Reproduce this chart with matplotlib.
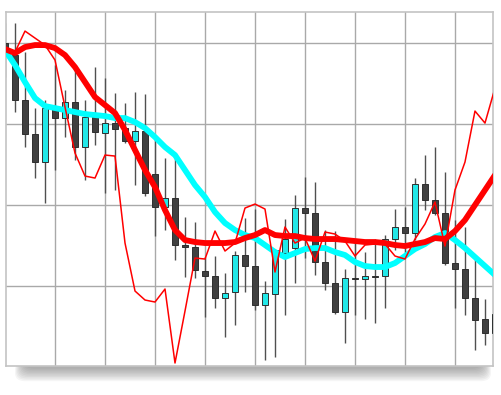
import numpy as np
import matplotlib
matplotlib.use("Agg")
import matplotlib.pyplot as plt
from matplotlib.patches import FancyBboxPatch

# candle OHLC (price units, higher = up)
opens = [357, 345, 300, 266, 238, 292, 282, 298, 253, 283, 267, 277, 272, 259, 269, 226, 193,
         202, 155, 153, 129, 124, 102, 108, 145, 134, 95, 106, 147, 152, 192, 187, 138, 117,
         88, 122, 121, 124, 124, 161, 173, 167, 216, 200, 187, 137, 131, 102, 81, 67]
highs = [377, 377, 348, 292, 300, 335, 310, 335, 300, 333, 322, 307, 297, 308, 306, 265, 242,
         242, 183, 178, 143, 144, 127, 149, 182, 191, 119, 151, 181, 205, 223, 218, 170, 169,
         131, 158, 148, 161, 165, 191, 193, 222, 245, 253, 228, 180, 173, 142, 101, 102]
lows = [323, 288, 253, 222, 197, 230, 263, 240, 220, 255, 207, 210, 257, 215, 204, 164, 170,
        140, 123, 122, 83, 92, 63, 75, 108, 90, 40, 43, 85, 117, 142, 125, 110, 86,
        57, 85, 81, 77, 92, 150, 143, 160, 190, 185, 135, 92, 85, 50, 55, 60]
closes = [348, 300, 266, 238, 292, 282, 298, 253, 283, 268, 277, 271, 259, 269, 207, 193, 202,
          155, 153, 130, 124, 102, 107, 145, 134, 95, 107, 150, 161, 192, 187, 138, 117, 88,
          122, 121, 124, 123, 161, 173, 167, 216, 200, 187, 137, 131, 102, 80, 67, 86]

# moving averages
ma_fast = [351, 347, 353, 355, 355, 352, 345, 333, 318, 303, 295, 287, 270, 250, 230, 213, 190,
           170, 160, 158, 157, 157, 157, 158, 162, 165, 170, 165, 164, 164, 162, 161, 161, 161,
           160, 159, 158, 158, 157, 155, 154, 156, 158, 162, 161, 169, 180, 195, 210, 225]
ma_slow = [350, 335, 318, 302, 294, 292, 290, 288, 286, 285, 284, 282, 282, 278, 272, 263, 253,
           245, 230, 215, 203, 188, 177, 170, 165, 162, 155, 148, 143, 147, 151, 152, 152, 148,
           145, 138, 134, 133, 133, 137, 144, 151, 156, 163, 167, 160, 152, 143, 134, 125]
ma_raw = [350, 348, 369, 362, 355, 340, 293, 247, 224, 222, 245, 244, 157, 109, 100, 98, 111,
          37, 89, 142, 141, 169, 149, 157, 192, 196, 191, 128, 173, 157, 162, 139, 168, 166,
          159, 144, 155, 156, 156, 144, 141, 161, 176, 198, 154, 210, 238, 289, 277, 312]

UP = "#22e8e8"
DOWN = "#404040"
EDGE = "#2e2e2e"

fig = plt.figure(figsize=(5.01, 3.95), dpi=100)
fig.patch.set_facecolor("white")

# soft drop shadow under the frame
for k in range(10):
    a = 0.06
    fig.patches.append(FancyBboxPatch(
        (0.03 + k * 0.002, 0.035 + k * 0.0035), 0.95 - k * 0.004, 0.05,
        boxstyle="round,pad=0.0,rounding_size=0.02", transform=fig.transFigure,
        facecolor="#555555", edgecolor="none", alpha=a, zorder=0))

ax = fig.add_axes([0.012, 0.0734, 0.972, 0.896])
ax.set_facecolor("white")
ax.set_zorder(2)

x = np.arange(len(opens))
o = np.array(opens); c = np.array(closes)
up = c >= o
cols = np.where(up, UP, DOWN)

ax.vlines(x, lows, highs, color="#505050", lw=1.0, zorder=2)
ax.bar(x, np.abs(c - o) + 0.8, bottom=np.minimum(o, c) - 0.4, width=0.62,
       color=cols, edgecolor=EDGE, linewidth=0.7, zorder=3)

ax.plot(x, ma_slow, color="#00ffff", lw=4.2, zorder=4, solid_capstyle="round")
ax.plot(x, ma_raw, color="#ff0000", lw=1.1, zorder=5)
ax.plot(x, ma_fast, color="#ff0000", lw=4.2, zorder=6, solid_capstyle="round")

ax.set_xlim(0.1, 48.8)
ax.set_ylim(34, 388)
ax.set_xticks(np.arange(5, 48, 5))
ax.set_yticks([114, 195, 276, 357])
ax.grid(True, color="#a9a9a9", lw=1.0)
ax.set_axisbelow(True)
ax.tick_params(length=0, labelbottom=False, labelleft=False)
for sp in ax.spines.values():
    sp.set_color("#c4c4c4")
    sp.set_linewidth(1.2)

fig.savefig("out.png", dpi=100, facecolor="white")
